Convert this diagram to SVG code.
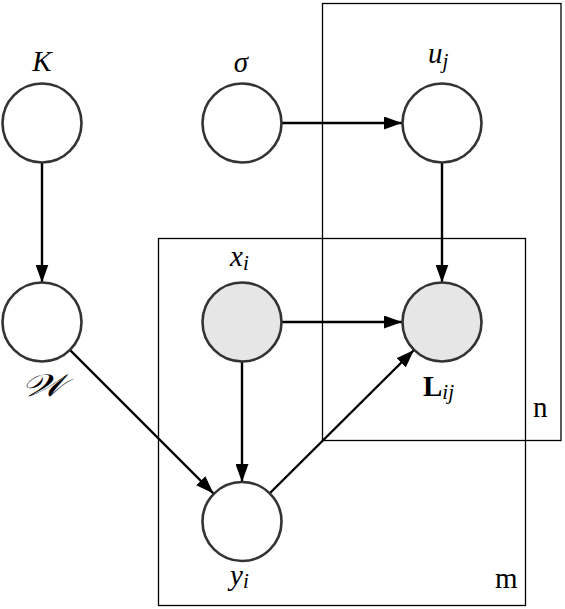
<svg xmlns="http://www.w3.org/2000/svg" width="565" height="609" viewBox="0 0 565 609">
<style>
.node{fill:#ffffff;stroke:#333333;stroke-width:2.6}
.obs{fill:#e6e6e6}
.plate{fill:none;stroke:#000000;stroke-width:1.3}
.edge{stroke:#000000;stroke-width:2.4;fill:none;marker-end:url(#arr)}
.lbl{font-family:"Liberation Serif",serif;font-style:italic;font-size:29px;fill:#000}
.sub{font-size:21px}
.up{font-family:"Liberation Serif",serif;font-size:29px;fill:#000}
</style>
<defs>
<marker id="arr" markerUnits="userSpaceOnUse" markerWidth="18" markerHeight="13" refX="18" refY="6.5" orient="auto">
<path d="M0,0 L18,6.5 L0,13 z" fill="#000"/>
</marker>
</defs>
<rect fill="#fff" x="0" y="0" width="565" height="609"/>
<g id="plates">
<rect id="plate-n" class="plate" x="322.5" y="3.5" width="238.5" height="437"/>
<rect id="plate-m" class="plate" x="158.5" y="238.5" width="367" height="367"/>
<text class="up" x="533" y="417">n</text>
<text class="up" x="495" y="588">m</text>
</g>
<g id="connectors">
<line class="edge" x1="42" y1="162.5" x2="42" y2="282.5"/>
<line class="edge" x1="281.5" y1="123" x2="402" y2="123"/>
<line class="edge" x1="442" y1="162.5" x2="442" y2="282.5"/>
<line class="edge" x1="281.5" y1="322" x2="402" y2="322"/>
<line class="edge" x1="242" y1="361.5" x2="242" y2="482"/>
<line class="edge" x1="70" y1="350" x2="213.5" y2="493.5"/>
<line class="edge" x1="269.5" y1="493.5" x2="414" y2="350"/>
</g>
<g id="node-K">
<circle class="node" cx="42" cy="123" r="39.5"/>
<text class="lbl" x="42" y="71" text-anchor="middle">K</text>
</g>
<g id="node-sigma">
<circle class="node" cx="242" cy="123" r="39.5"/>
<text class="lbl" x="241" y="72" text-anchor="middle">σ</text>
</g>
<g id="node-u">
<circle class="node" cx="442" cy="123" r="39.5"/>
<text class="lbl" x="428" y="63">u<tspan class="sub" dy="5">j</tspan></text>
</g>
<g id="node-W">
<circle class="node" cx="42" cy="322" r="39.5"/>
<text class="lbl" transform="translate(43,396) scale(1.35,1)" x="0" y="0" text-anchor="middle" style="font-size:31px">𝒲</text>
</g>
<g id="node-x">
<circle class="node obs" cx="242" cy="322" r="39.5"/>
<text class="lbl" x="230" y="266">x<tspan class="sub" dy="4">i</tspan></text>
</g>
<g id="node-L">
<circle class="node obs" cx="442" cy="322" r="39.5"/>
<text class="up" x="423" y="396" font-weight="bold">L<tspan class="sub" font-style="italic" font-weight="normal" dy="3">ij</tspan></text>
</g>
<g id="node-y">
<circle class="node" cx="242" cy="521.5" r="39.5"/>
<text class="lbl" x="230" y="585">y<tspan class="sub" dy="3">i</tspan></text>
</g>
</svg>
